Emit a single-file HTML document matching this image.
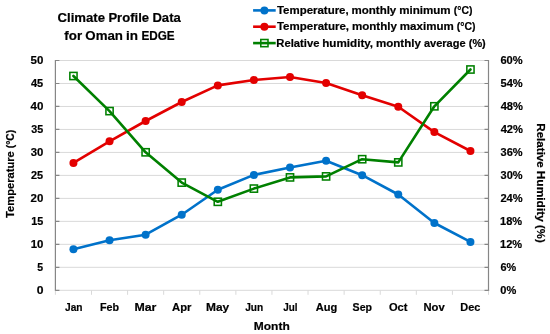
<!DOCTYPE html><html><head><meta charset="utf-8"><style>html,body{margin:0;padding:0;background:#fff;width:550px;height:334px;overflow:hidden}svg{display:block}text{font-family:'Liberation Sans', Arial, sans-serif;font-weight:bold;fill:#000;stroke:#000;stroke-width:0.2px}</style></head><body>
<svg width="550" height="334" viewBox="0 0 550 334">
<rect width="550" height="334" fill="#fff"/>
<path d="M55.40 267.32H488.50 M55.40 244.34H488.50 M55.40 221.36H488.50 M55.40 198.38H488.50 M55.40 175.40H488.50 M55.40 152.42H488.50 M55.40 129.44H488.50 M55.40 106.46H488.50 M55.40 83.48H488.50 M55.40 60.50H488.50" stroke="#D9D9D9" stroke-width="1" fill="none"/>
<path d="M55.40 290.30H489.50 M55.40 290.30V294.80 M91.49 290.30V294.80 M127.58 290.30V294.80 M163.68 290.30V294.80 M199.77 290.30V294.80 M235.86 290.30V294.80 M271.95 290.30V294.80 M308.04 290.30V294.80 M344.13 290.30V294.80 M380.23 290.30V294.80 M416.32 290.30V294.80 M452.41 290.30V294.80 M488.50 290.30V294.80" stroke="#D9D9D9" stroke-width="1" fill="none"/>
<path d="M55.40 60.00V290.80 M488.50 60.00V290.80 M55.40 290.30H59.40 M488.50 290.30H484.50 M55.40 267.32H59.40 M488.50 267.32H484.50 M55.40 244.34H59.40 M488.50 244.34H484.50 M55.40 221.36H59.40 M488.50 221.36H484.50 M55.40 198.38H59.40 M488.50 198.38H484.50 M55.40 175.40H59.40 M488.50 175.40H484.50 M55.40 152.42H59.40 M488.50 152.42H484.50 M55.40 129.44H59.40 M488.50 129.44H484.50 M55.40 106.46H59.40 M488.50 106.46H484.50 M55.40 83.48H59.40 M488.50 83.48H484.50 M55.40 60.50H59.40 M488.50 60.50H484.50" stroke="#868686" stroke-width="1.2" fill="none"/>
<polyline points="73.45,249.30 109.54,240.30 145.63,234.70 181.72,214.70 217.81,189.80 253.90,174.90 290.00,167.60 326.09,160.80 362.18,175.20 398.27,194.50 434.36,223.00 470.45,241.90" fill="none" stroke="#0072CA" stroke-width="2.6" stroke-linejoin="round" stroke-linecap="round"/>
<circle cx="73.45" cy="249.30" r="4.0" fill="#0072CA"/><circle cx="109.54" cy="240.30" r="4.0" fill="#0072CA"/><circle cx="145.63" cy="234.70" r="4.0" fill="#0072CA"/><circle cx="181.72" cy="214.70" r="4.0" fill="#0072CA"/><circle cx="217.81" cy="189.80" r="4.0" fill="#0072CA"/><circle cx="253.90" cy="174.90" r="4.0" fill="#0072CA"/><circle cx="290.00" cy="167.60" r="4.0" fill="#0072CA"/><circle cx="326.09" cy="160.80" r="4.0" fill="#0072CA"/><circle cx="362.18" cy="175.20" r="4.0" fill="#0072CA"/><circle cx="398.27" cy="194.50" r="4.0" fill="#0072CA"/><circle cx="434.36" cy="223.00" r="4.0" fill="#0072CA"/><circle cx="470.45" cy="241.90" r="4.0" fill="#0072CA"/>
<polyline points="73.45,162.90 109.54,141.30 145.63,121.00 181.72,102.00 217.81,85.40 253.90,80.00 290.00,77.00 326.09,83.00 362.18,95.20 398.27,106.80 434.36,132.10 470.45,151.00" fill="none" stroke="#E30000" stroke-width="2.6" stroke-linejoin="round" stroke-linecap="round"/>
<circle cx="73.45" cy="162.90" r="4.0" fill="#E30000"/><circle cx="109.54" cy="141.30" r="4.0" fill="#E30000"/><circle cx="145.63" cy="121.00" r="4.0" fill="#E30000"/><circle cx="181.72" cy="102.00" r="4.0" fill="#E30000"/><circle cx="217.81" cy="85.40" r="4.0" fill="#E30000"/><circle cx="253.90" cy="80.00" r="4.0" fill="#E30000"/><circle cx="290.00" cy="77.00" r="4.0" fill="#E30000"/><circle cx="326.09" cy="83.00" r="4.0" fill="#E30000"/><circle cx="362.18" cy="95.20" r="4.0" fill="#E30000"/><circle cx="398.27" cy="106.80" r="4.0" fill="#E30000"/><circle cx="434.36" cy="132.10" r="4.0" fill="#E30000"/><circle cx="470.45" cy="151.00" r="4.0" fill="#E30000"/>
<polyline points="73.45,76.00 109.54,111.10 145.63,152.30 181.72,182.60 217.81,201.80 253.90,188.60 290.00,177.40 326.09,176.40 362.18,159.20 398.27,162.40 434.36,106.30 470.45,69.50" fill="none" stroke="#008000" stroke-width="2.6" stroke-linejoin="round" stroke-linecap="round"/>
<rect x="69.85" y="72.40" width="7.2" height="7.2" fill="none" stroke="#008000" stroke-width="1.55"/><rect x="105.94" y="107.50" width="7.2" height="7.2" fill="none" stroke="#008000" stroke-width="1.55"/><rect x="142.03" y="148.70" width="7.2" height="7.2" fill="none" stroke="#008000" stroke-width="1.55"/><rect x="178.12" y="179.00" width="7.2" height="7.2" fill="none" stroke="#008000" stroke-width="1.55"/><rect x="214.21" y="198.20" width="7.2" height="7.2" fill="none" stroke="#008000" stroke-width="1.55"/><rect x="250.30" y="185.00" width="7.2" height="7.2" fill="none" stroke="#008000" stroke-width="1.55"/><rect x="286.40" y="173.80" width="7.2" height="7.2" fill="none" stroke="#008000" stroke-width="1.55"/><rect x="322.49" y="172.80" width="7.2" height="7.2" fill="none" stroke="#008000" stroke-width="1.55"/><rect x="358.58" y="155.60" width="7.2" height="7.2" fill="none" stroke="#008000" stroke-width="1.55"/><rect x="394.67" y="158.80" width="7.2" height="7.2" fill="none" stroke="#008000" stroke-width="1.55"/><rect x="430.76" y="102.70" width="7.2" height="7.2" fill="none" stroke="#008000" stroke-width="1.55"/><rect x="466.85" y="65.90" width="7.2" height="7.2" fill="none" stroke="#008000" stroke-width="1.55"/>
<path d="M253.1 10.4H275.7" stroke="#0072CA" stroke-width="2.6"/>
<circle cx="264.4" cy="10.4" r="4.0" fill="#0072CA"/>
<path d="M253.1 26.7H275.7" stroke="#E30000" stroke-width="2.6"/>
<circle cx="264.4" cy="26.7" r="4.0" fill="#E30000"/>
<path d="M253.1 43.1H275.7" stroke="#008000" stroke-width="2.6"/>
<rect x="260.80" y="39.50" width="7.2" height="7.2" fill="none" stroke="#008000" stroke-width="1.55"/>
<text x="57.52" y="21.90" font-size="13.2" textLength="47.45" lengthAdjust="spacingAndGlyphs">Climate</text><text x="108.42" y="21.90" font-size="13.2" textLength="40.65" lengthAdjust="spacingAndGlyphs">Profile</text><text x="152.45" y="21.90" font-size="13.2" textLength="28.31" lengthAdjust="spacingAndGlyphs">Data</text>
<text x="64.30" y="40.00" font-size="13.2" textLength="17.78" lengthAdjust="spacingAndGlyphs">for</text><text x="85.31" y="40.00" font-size="13.2" textLength="37.68" lengthAdjust="spacingAndGlyphs">Oman</text><text x="126.03" y="40.00" font-size="13.2" textLength="11.99" lengthAdjust="spacingAndGlyphs">in</text><text x="141.38" y="40.00" font-size="13.2" textLength="33.28" lengthAdjust="spacingAndGlyphs">EDGE</text>
<text x="276.94" y="13.80" font-size="11.2" textLength="71.73" lengthAdjust="spacingAndGlyphs">Temperature,</text><text x="351.53" y="13.80" font-size="11.2" textLength="44.76" lengthAdjust="spacingAndGlyphs">monthly</text><text x="399.17" y="13.80" font-size="11.2" textLength="51.47" lengthAdjust="spacingAndGlyphs">minimum</text><text x="453.80" y="13.80" font-size="11.2" textLength="18.71" lengthAdjust="spacingAndGlyphs">(°C)</text>
<text x="276.93" y="30.30" font-size="11.2" textLength="72.11" lengthAdjust="spacingAndGlyphs">Temperature,</text><text x="351.92" y="30.30" font-size="11.2" textLength="45.00" lengthAdjust="spacingAndGlyphs">monthly</text><text x="399.82" y="30.30" font-size="11.2" textLength="53.91" lengthAdjust="spacingAndGlyphs">maximum</text><text x="456.87" y="30.30" font-size="11.2" textLength="18.74" lengthAdjust="spacingAndGlyphs">(°C)</text>
<text x="276.32" y="46.60" font-size="11.2" textLength="43.07" lengthAdjust="spacingAndGlyphs">Relative</text><text x="322.24" y="46.60" font-size="11.2" textLength="50.87" lengthAdjust="spacingAndGlyphs">humidity,</text><text x="375.99" y="46.60" font-size="11.2" textLength="44.92" lengthAdjust="spacingAndGlyphs">monthly</text><text x="423.90" y="46.60" font-size="11.2" textLength="41.70" lengthAdjust="spacingAndGlyphs">average</text><text x="468.78" y="46.60" font-size="11.2" textLength="16.97" lengthAdjust="spacingAndGlyphs">(%)</text>
<text x="253.82" y="329.60" font-size="11.5" textLength="35.94" lengthAdjust="spacingAndGlyphs">Month</text>
<text x="36.65" y="293.90" font-size="11.4" textLength="6.75" lengthAdjust="spacingAndGlyphs">0</text>
<text x="37.31" y="270.92" font-size="11.4" textLength="5.86" lengthAdjust="spacingAndGlyphs">5</text>
<text x="30.69" y="247.94" font-size="11.4" textLength="12.70" lengthAdjust="spacingAndGlyphs">10</text>
<text x="31.16" y="224.96" font-size="11.4" textLength="12.04" lengthAdjust="spacingAndGlyphs">15</text>
<text x="30.59" y="201.98" font-size="11.4" textLength="12.79" lengthAdjust="spacingAndGlyphs">20</text>
<text x="31.05" y="179.00" font-size="11.4" textLength="12.15" lengthAdjust="spacingAndGlyphs">25</text>
<text x="30.77" y="156.02" font-size="11.4" textLength="12.61" lengthAdjust="spacingAndGlyphs">30</text>
<text x="31.22" y="133.04" font-size="11.4" textLength="11.97" lengthAdjust="spacingAndGlyphs">35</text>
<text x="30.51" y="110.06" font-size="11.4" textLength="12.88" lengthAdjust="spacingAndGlyphs">40</text>
<text x="30.95" y="87.08" font-size="11.4" textLength="12.25" lengthAdjust="spacingAndGlyphs">45</text>
<text x="30.59" y="64.10" font-size="11.4" textLength="12.80" lengthAdjust="spacingAndGlyphs">50</text>
<text x="500.36" y="293.90" font-size="11.4" textLength="15.95" lengthAdjust="spacingAndGlyphs">0%</text>
<text x="500.42" y="270.92" font-size="11.4" textLength="15.69" lengthAdjust="spacingAndGlyphs">6%</text>
<text x="500.08" y="247.94" font-size="11.4" textLength="22.13" lengthAdjust="spacingAndGlyphs">12%</text>
<text x="500.08" y="224.96" font-size="11.4" textLength="22.13" lengthAdjust="spacingAndGlyphs">18%</text>
<text x="500.41" y="201.98" font-size="11.4" textLength="22.25" lengthAdjust="spacingAndGlyphs">24%</text>
<text x="500.52" y="179.00" font-size="11.4" textLength="22.07" lengthAdjust="spacingAndGlyphs">30%</text>
<text x="500.52" y="156.02" font-size="11.4" textLength="22.07" lengthAdjust="spacingAndGlyphs">36%</text>
<text x="500.63" y="133.04" font-size="11.4" textLength="22.35" lengthAdjust="spacingAndGlyphs">42%</text>
<text x="500.63" y="110.06" font-size="11.4" textLength="22.35" lengthAdjust="spacingAndGlyphs">48%</text>
<text x="500.47" y="87.08" font-size="11.4" textLength="22.26" lengthAdjust="spacingAndGlyphs">54%</text>
<text x="500.41" y="64.10" font-size="11.4" textLength="22.25" lengthAdjust="spacingAndGlyphs">60%</text>
<text x="65.04" y="310.80" font-size="11.4" textLength="17.50" lengthAdjust="spacingAndGlyphs">Jan</text>
<text x="99.98" y="310.80" font-size="11.4" textLength="19.08" lengthAdjust="spacingAndGlyphs">Feb</text>
<text x="134.43" y="310.80" font-size="11.4" textLength="21.96" lengthAdjust="spacingAndGlyphs">Mar</text>
<text x="172.07" y="310.80" font-size="11.4" textLength="19.42" lengthAdjust="spacingAndGlyphs">Apr</text>
<text x="205.94" y="310.80" font-size="11.4" textLength="23.24" lengthAdjust="spacingAndGlyphs">May</text>
<text x="245.24" y="310.80" font-size="11.4" textLength="18.00" lengthAdjust="spacingAndGlyphs">Jun</text>
<text x="283.23" y="310.80" font-size="11.4" textLength="14.28" lengthAdjust="spacingAndGlyphs">Jul</text>
<text x="315.67" y="310.80" font-size="11.4" textLength="21.52" lengthAdjust="spacingAndGlyphs">Aug</text>
<text x="352.62" y="310.80" font-size="11.4" textLength="19.42" lengthAdjust="spacingAndGlyphs">Sep</text>
<text x="388.97" y="310.80" font-size="11.4" textLength="18.50" lengthAdjust="spacingAndGlyphs">Oct</text>
<text x="423.49" y="310.80" font-size="11.4" textLength="21.26" lengthAdjust="spacingAndGlyphs">Nov</text>
<text x="460.34" y="310.80" font-size="11.4" textLength="20.04" lengthAdjust="spacingAndGlyphs">Dec</text>
<g transform="translate(14.40,0) rotate(-90)"><text x="-217.91" y="0.00" font-size="11.1" textLength="66.68" lengthAdjust="spacingAndGlyphs">Temperature</text><text x="-148.16" y="0.00" font-size="11.1" textLength="18.26" lengthAdjust="spacingAndGlyphs">(°C)</text></g>
<g transform="translate(536.90,0) rotate(90)"><text x="123.25" y="0.00" font-size="11.4" textLength="44.54" lengthAdjust="spacingAndGlyphs">Relative</text><text x="170.73" y="0.00" font-size="11.4" textLength="51.18" lengthAdjust="spacingAndGlyphs">Humidity</text><text x="225.12" y="0.00" font-size="11.4" textLength="17.54" lengthAdjust="spacingAndGlyphs">(%)</text></g>
</svg></body></html>
